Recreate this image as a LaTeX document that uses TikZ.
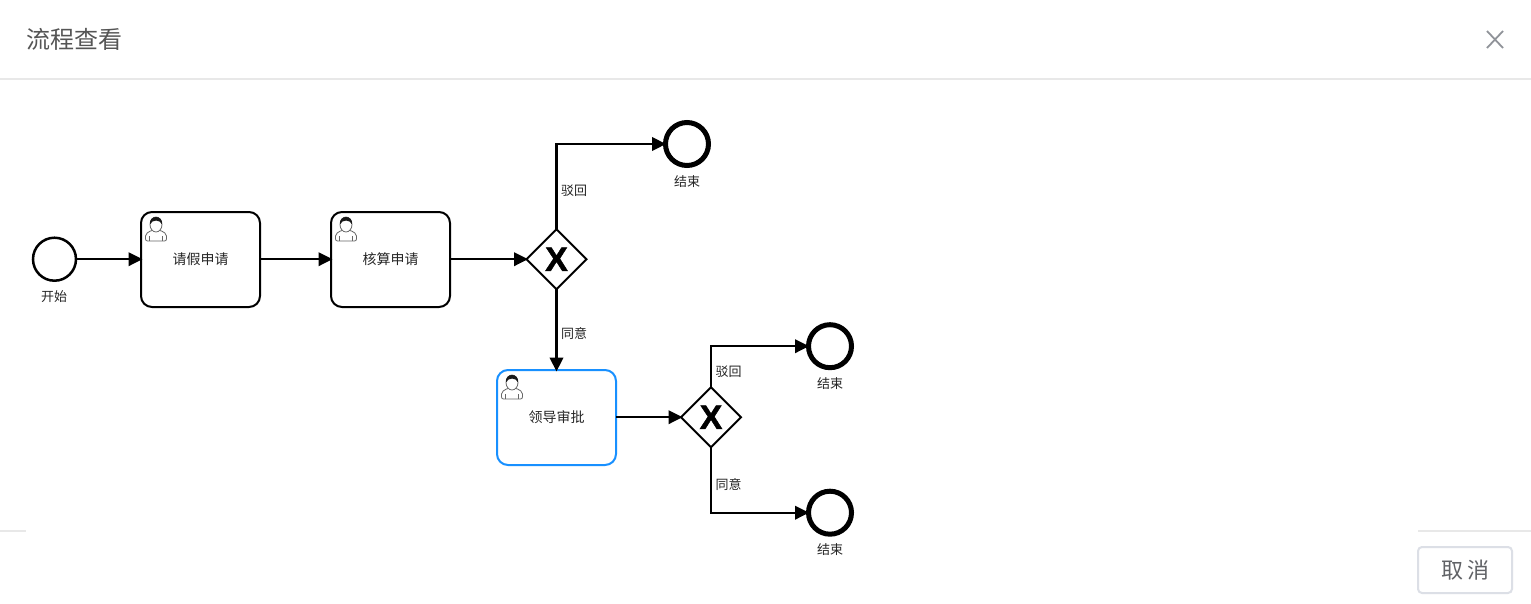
\documentclass[tikz,border=0pt]{standalone}
\usepackage{fontspec}
\setmainfont{Noto Sans CJK SC}
\newfontfamily\xfont[BoldFeatures={FakeBold=1.5}]{Liberation Sans}
\usetikzlibrary{arrows.meta,shapes.geometric,positioning}
\definecolor{linegray}{HTML}{E8E8E8}
\definecolor{titlecol}{HTML}{555555}
\definecolor{btngray}{HTML}{DCDFE6}
\definecolor{btntext}{HTML}{606266}
\definecolor{closecol}{HTML}{909399}
\definecolor{activeblue}{HTML}{1890FF}
\tikzset{
  flow/.style={line width=2.2pt,-{Triangle[length=14pt,width=13.5pt]},black,shorten >=-1.5pt},
  taskbox/.style={draw=black,line width=2pt,rounded corners=11pt,minimum width=119pt,minimum height=95pt,inner sep=0pt,outer sep=0pt,font=\fontsize{14}{16}\selectfont,text=black!85},
  activetask/.style={taskbox,draw=activeblue},
  startev/.style={circle,draw=black,line width=2.5pt,minimum size=43pt,inner sep=0pt,outer sep=0pt},
  endev/.style={circle,draw=black,line width=5pt,minimum size=43pt,inner sep=0pt,outer sep=1pt},
  gateway/.style={diamond,aspect=1,draw=black,line width=2pt,minimum width=60pt,minimum height=60pt,inner sep=0pt,outer sep=0pt,font=\xfont\bfseries\fontsize{34}{34}\selectfont},
  lab/.style={inner sep=0pt,font=\fontsize{13}{15}\selectfont,text=black!85},
  user/.pic={
    \fill[white] (0,0) rectangle (22,25);
    \draw[line width=.8pt,black!60,rounded corners=2pt,fill=white] (0.5,25) -- (0.5,18) -- (7,14) -- (15,14) -- (21.5,18) -- (21.5,25) -- cycle;
    \draw[line width=.8pt,black!60] (4.5,25) -- (4.5,20) (17.5,25) -- (17.5,20);
    \draw[line width=.8pt,black!60,fill=white] (11,8.5) ellipse (6 and 7.5);
    \fill[black!90] (5,8.5) .. controls (3.5,-1.5) and (18.5,-1.5) .. (17,8.5) .. controls (15.5,3.5) and (7,3) .. (5,8.5) -- cycle;
  }
}
\begin{document}
\begin{tikzpicture}[x=1pt,y=-1pt]
\useasboundingbox (0,0) rectangle (1531,603);
\fill[white] (0,0) rectangle (1531,603);
% header and footer
\coordinate (hl) at (0,79);
\coordinate (hr) at (1531,79);
\draw[linegray,line width=2pt] (hl) -- (hr);
\coordinate (fl1) at (0,531);
\coordinate (fl2) at (26,531);
\coordinate (fr1) at (1418,531);
\coordinate (fr2) at (1531,531);
\draw[linegray,line width=1.5pt] (fl1) -- (fl2);
\draw[linegray,line width=1.5pt] (fr1) -- (fr2);
\node[inner sep=0pt,anchor=center,text=titlecol,font=\fontsize{24}{28}\selectfont] (title) at (74,39) {流程查看};
\coordinate (c1) at (1487,31);
\coordinate (c2) at (1503,48);
\coordinate (c3) at (1503,31);
\coordinate (c4) at (1487,48);
\draw[closecol,line width=1.8pt] (c1) -- (c2);
\draw[closecol,line width=1.8pt] (c3) -- (c4);
\node[draw=btngray,line width=2pt,rounded corners=4pt,minimum width=94pt,minimum height=46pt,inner sep=0pt,text=btntext,font=\fontsize{22}{26}\selectfont] (cancel) at (1465,570) {取\hspace{4pt}消};
% nodes
\node[startev] (start) at (54.5,259.2) {};
\node[lab] (startl) at (54,296.5) {开始};
\node[taskbox] (t1) at (200.5,259.5) {请假申请};
\node[taskbox] (t2) at (390.5,259.5) {核算申请};
\node[gateway] (g1) at (556.5,259.2) {X};
\node[activetask] (t3) at (556.5,417.5) {领导审批};
\node[gateway] (g2) at (711,417.2) {X};
\node[endev] (e1) at (687,144) {};
\node[endev] (e2) at (830,346.2) {};
\node[endev] (e3) at (830,512.7) {};
\node[lab] (e1l) at (687,181.5) {结束};
\node[lab] (e2l) at (830,383.5) {结束};
\node[lab] (e3l) at (830,550) {结束};
\pic at (145,216) {user};
\pic at (335,216) {user};
\pic at (501,374) {user};
% flows
\draw[flow] (start) -- (start -| t1.west);
\draw[flow] (t1.east |- g1) -- (t2.west |- g1);
\draw[flow] (t2.east |- g1) -- (g1);
\draw[flow] (g1.north) |- (e1.west);
\draw[flow] (g1.south) -- (t3.north);
\draw[flow] (t3.east |- g2) -- (g2);
\draw[flow] (g2.north) |- (e2.west);
\draw[flow] (g2.south) |- (e3.west);
% labels
\node[lab] (l1) at (574,190.5) {驳回};
\node[lab] (l2) at (574,333.5) {同意};
\node[lab] (l3) at (728.5,371.5) {驳回};
\node[lab] (l4) at (728.5,484.5) {同意};
\end{tikzpicture}
\end{document}
